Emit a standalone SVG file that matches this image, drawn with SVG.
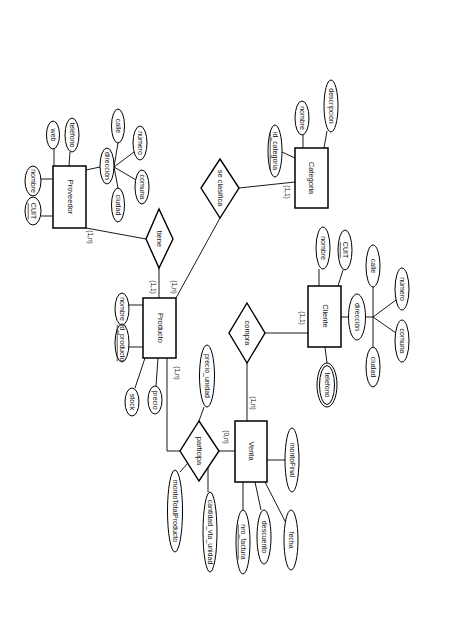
<svg xmlns="http://www.w3.org/2000/svg" width="474" height="632" viewBox="0 0 474 632">
<style>
.ent{fill:#fff;stroke:#000;stroke-width:1.5}
.rel{fill:#fff;stroke:#000;stroke-width:1.4}
.att{fill:#fff;stroke:#000;stroke-width:1}
.ln{fill:none;stroke:#000;stroke-width:0.9}
text{font-family:"Liberation Sans",Arial,sans-serif;font-size:7px;text-anchor:middle;dominant-baseline:central;fill:#111}
.big{font-size:7.5px}
.card{font-size:6.5px}
.u{text-decoration:underline}
</style>
<rect width="474" height="632" fill="#fff"/>
<g id="connectors">
<line class="ln" x1="41" y1="216" x2="53" y2="216"/>
<line class="ln" x1="41" y1="179" x2="53" y2="179"/>
<line class="ln" x1="54" y1="149" x2="54" y2="166"/>
<line class="ln" x1="70" y1="152" x2="69" y2="166"/>
<line class="ln" x1="86" y1="170" x2="100" y2="167"/>
<line class="ln" x1="114" y1="167" x2="118" y2="143"/>
<line class="ln" x1="114" y1="167" x2="134" y2="152"/>
<line class="ln" x1="114" y1="167" x2="136" y2="180"/>
<line class="ln" x1="114" y1="167" x2="118" y2="188"/>
<line class="ln" x1="86" y1="228" x2="146" y2="239"/>
<line class="ln" x1="159" y1="268" x2="159" y2="298"/>
<line class="ln" x1="176" y1="298" x2="220" y2="218"/>
<line class="ln" x1="239" y1="188" x2="295" y2="182"/>
<line class="ln" x1="282" y1="152" x2="295" y2="158"/>
<line class="ln" x1="303" y1="135" x2="303" y2="148"/>
<line class="ln" x1="327" y1="131" x2="324" y2="148"/>
<line class="ln" x1="129" y1="305" x2="143" y2="305"/>
<line class="ln" x1="129" y1="347" x2="143" y2="347"/>
<line class="ln" x1="145" y1="358" x2="135" y2="388"/>
<line class="ln" x1="158" y1="358" x2="156" y2="386"/>
<polyline class="ln" points="167,358 167,451 180,451"/>
<line class="ln" x1="204" y1="407" x2="199" y2="421"/>
<line class="ln" x1="180" y1="472" x2="188" y2="463"/>
<line class="ln" x1="208" y1="467" x2="208" y2="492"/>
<line class="ln" x1="219" y1="451" x2="235" y2="451"/>
<line class="ln" x1="247" y1="363" x2="247" y2="421"/>
<line class="ln" x1="265" y1="333" x2="308" y2="333"/>
<line class="ln" x1="319" y1="269" x2="319" y2="286"/>
<line class="ln" x1="343" y1="270" x2="338" y2="286"/>
<line class="ln" x1="325" y1="347" x2="327" y2="363"/>
<line class="ln" x1="341" y1="317" x2="348" y2="317"/>
<line class="ln" x1="365" y1="317" x2="373" y2="317"/>
<line class="ln" x1="373" y1="317" x2="373" y2="287"/>
<line class="ln" x1="373" y1="317" x2="396" y2="300"/>
<line class="ln" x1="373" y1="317" x2="396" y2="333"/>
<line class="ln" x1="373" y1="317" x2="373" y2="347"/>
<line class="ln" x1="267" y1="460" x2="285" y2="460"/>
<line class="ln" x1="243" y1="482" x2="243" y2="510"/>
<line class="ln" x1="255" y1="482" x2="261" y2="510"/>
<line class="ln" x1="265" y1="482" x2="286" y2="523"/>
</g>
<g id="cards">
<text class="card" transform="rotate(90 90 237)" x="90" y="237">(1,n)</text>
<text class="card" transform="rotate(90 153 287)" x="153" y="287">(1,1)</text>
<text class="card" transform="rotate(90 174 287)" x="174" y="287">(1,n)</text>
<text class="card" transform="rotate(90 287 192)" x="287" y="192">(1,1)</text>
<text class="card" transform="rotate(90 302 318)" x="302" y="318">(1,1)</text>
<text class="card" transform="rotate(90 177 373)" x="177" y="373">(1,n)</text>
<text class="card" transform="rotate(90 226 437)" x="226" y="437">(0,n)</text>
<text class="card" transform="rotate(90 253 403)" x="253" y="403">(1,n)</text>
</g>
<g id="proveedor">
<rect class="ent" x="53" y="166" width="33" height="62"/>
<text class="big" transform="rotate(90 70 197)" x="70" y="197">Proveedor</text>
</g>
<g id="prov-cuit"><ellipse class="att" cx="33" cy="211" rx="8" ry="14"/><text class="u" transform="rotate(90 33 211)" x="33" y="211">CUIT</text></g>
<g id="prov-nombre"><ellipse class="att" cx="33" cy="181" rx="8" ry="15"/><text transform="rotate(90 33 181)" x="33" y="181">nombre</text></g>
<g id="prov-web"><ellipse class="att" cx="53" cy="135" rx="6.5" ry="14"/><text transform="rotate(90 53 135)" x="53" y="135">web</text></g>
<g id="prov-telefono"><ellipse class="att" cx="72" cy="135" rx="7" ry="17"/><text transform="rotate(90 72 135)" x="72" y="135">teléfono</text></g>
<g id="prov-direccion"><ellipse class="att" cx="107" cy="166" rx="7" ry="18"/><text transform="rotate(90 107 166)" x="107" y="166">dirección</text></g>
<g id="prov-calle"><ellipse class="att" cx="118" cy="126" rx="6.5" ry="17"/><text transform="rotate(90 118 126)" x="118" y="126">calle</text></g>
<g id="prov-numero"><ellipse class="att" cx="140" cy="143" rx="7" ry="17"/><text transform="rotate(90 140 143)" x="140" y="143">número</text></g>
<g id="prov-comuna"><ellipse class="att" cx="142" cy="187" rx="7" ry="17"/><text transform="rotate(90 142 187)" x="142" y="187">comuna</text></g>
<g id="prov-ciudad"><ellipse class="att" cx="118" cy="205" rx="6.5" ry="17"/><text transform="rotate(90 118 205)" x="118" y="205">ciudad</text></g>
<g id="tiene">
<polygon class="rel" points="159,209 173,239 159,268 146,239"/>
<text class="big" transform="rotate(90 159 239)" x="159" y="239">tiene</text>
</g>
<g id="producto">
<rect class="ent" x="143" y="298" width="33" height="60"/>
<text class="big" transform="rotate(90 160 328)" x="160" y="328">Producto</text>
</g>
<g id="prod-nombre"><ellipse class="att" cx="122" cy="309" rx="7" ry="16"/><text transform="rotate(90 122 309)" x="122" y="309">nombre</text></g>
<g id="prod-id"><ellipse class="att" cx="122" cy="343" rx="7" ry="19"/><text class="u" transform="rotate(90 122 343)" x="122" y="343">id_producto</text></g>
<g id="prod-stock"><ellipse class="att" cx="132" cy="402" rx="7" ry="14"/><text transform="rotate(90 132 402)" x="132" y="402">stock</text></g>
<g id="prod-precio"><ellipse class="att" cx="155" cy="400" rx="7" ry="14"/><text transform="rotate(90 155 400)" x="155" y="400">precio</text></g>
<g id="seclasifica">
<polygon class="rel" points="220,159 239,188 220,218 201,188"/>
<text class="big" transform="rotate(90 220 188)" x="220" y="188">se clasifica</text>
</g>
<g id="categoria">
<rect class="ent" x="295" y="148" width="33" height="60"/>
<text class="big" transform="rotate(90 311 178)" x="311" y="178">Categoria</text>
</g>
<g id="cat-id"><ellipse class="att" cx="275" cy="151" rx="7" ry="26"/><text class="u" transform="rotate(90 275 151)" x="275" y="151">id_categoria</text></g>
<g id="cat-nombre"><ellipse class="att" cx="302" cy="118" rx="7" ry="17"/><text transform="rotate(90 302 118)" x="302" y="118">nombre</text></g>
<g id="cat-desc"><ellipse class="att" cx="331" cy="106" rx="7" ry="26"/><text transform="rotate(90 331 106)" x="331" y="106">descripción</text></g>
<g id="compra">
<polygon class="rel" points="247,303 265,333 247,363 229,333"/>
<text class="big" transform="rotate(90 247 333)" x="247" y="333">compra</text>
</g>
<g id="cliente">
<rect class="ent" x="308" y="286" width="33" height="61"/>
<text class="big" transform="rotate(90 325 316)" x="325" y="316">Cliente</text>
</g>
<g id="cli-nombre"><ellipse class="att" cx="323" cy="248" rx="7" ry="21"/><text transform="rotate(90 323 248)" x="323" y="248">nombre</text></g>
<g id="cli-cuit"><ellipse class="att" cx="345" cy="250" rx="7" ry="20"/><text class="u" transform="rotate(90 345 250)" x="345" y="250">CUIT</text></g>
<g id="cli-telefono"><ellipse class="att" cx="327" cy="385" rx="10" ry="22"/><ellipse class="att" cx="327" cy="385" rx="7.5" ry="19.5"/><text transform="rotate(90 327 385)" x="327" y="385">telefono</text></g>
<g id="cli-direccion"><ellipse class="att" cx="357" cy="317" rx="8.5" ry="23"/><text transform="rotate(90 357 317)" x="357" y="317">dirección</text></g>
<g id="cli-calle"><ellipse class="att" cx="373" cy="266" rx="7" ry="21"/><text transform="rotate(90 373 266)" x="373" y="266">calle</text></g>
<g id="cli-numero"><ellipse class="att" cx="402" cy="289" rx="7" ry="21"/><text transform="rotate(90 402 289)" x="402" y="289">número</text></g>
<g id="cli-comuna"><ellipse class="att" cx="402" cy="341" rx="7" ry="21"/><text transform="rotate(90 402 341)" x="402" y="341">comuna</text></g>
<g id="cli-ciudad"><ellipse class="att" cx="373" cy="367" rx="7" ry="20"/><text transform="rotate(90 373 367)" x="373" y="367">ciudad</text></g>
<g id="participa">
<polygon class="rel" points="199,421 219,451 199,481 180,451"/>
<text class="big" transform="rotate(90 199 451)" x="199" y="451">participa</text>
</g>
<g id="venta">
<rect class="ent" x="235" y="421" width="32" height="61"/>
<text class="big" transform="rotate(90 251 451)" x="251" y="451">Venta</text>
</g>
<g id="part-precio"><ellipse class="att" cx="207" cy="376" rx="7.5" ry="31"/><text transform="rotate(90 207 376)" x="207" y="376">precio_unidad</text></g>
<g id="part-monto"><ellipse class="att" cx="175" cy="511" rx="7.5" ry="41"/><text transform="rotate(90 175 511)" x="175" y="511">montoTotalProducto</text></g>
<g id="part-cant"><ellipse class="att" cx="210" cy="532" rx="7" ry="40"/><text transform="rotate(90 210 532)" x="210" y="532">cantidad_vta_unidad</text></g>
<g id="venta-monto"><ellipse class="att" cx="292" cy="460" rx="7" ry="32"/><text transform="rotate(90 292 460)" x="292" y="460">montoFinal</text></g>
<g id="venta-nro"><ellipse class="att" cx="243" cy="542" rx="7" ry="32"/><text class="u" transform="rotate(90 243 542)" x="243" y="542">nro_factura</text></g>
<g id="venta-desc"><ellipse class="att" cx="264" cy="537" rx="7" ry="27"/><text transform="rotate(90 264 537)" x="264" y="537">descuento</text></g>
<g id="venta-fecha"><ellipse class="att" cx="291" cy="540" rx="7" ry="30"/><text transform="rotate(90 291 540)" x="291" y="540">fecha</text></g>
</svg>
